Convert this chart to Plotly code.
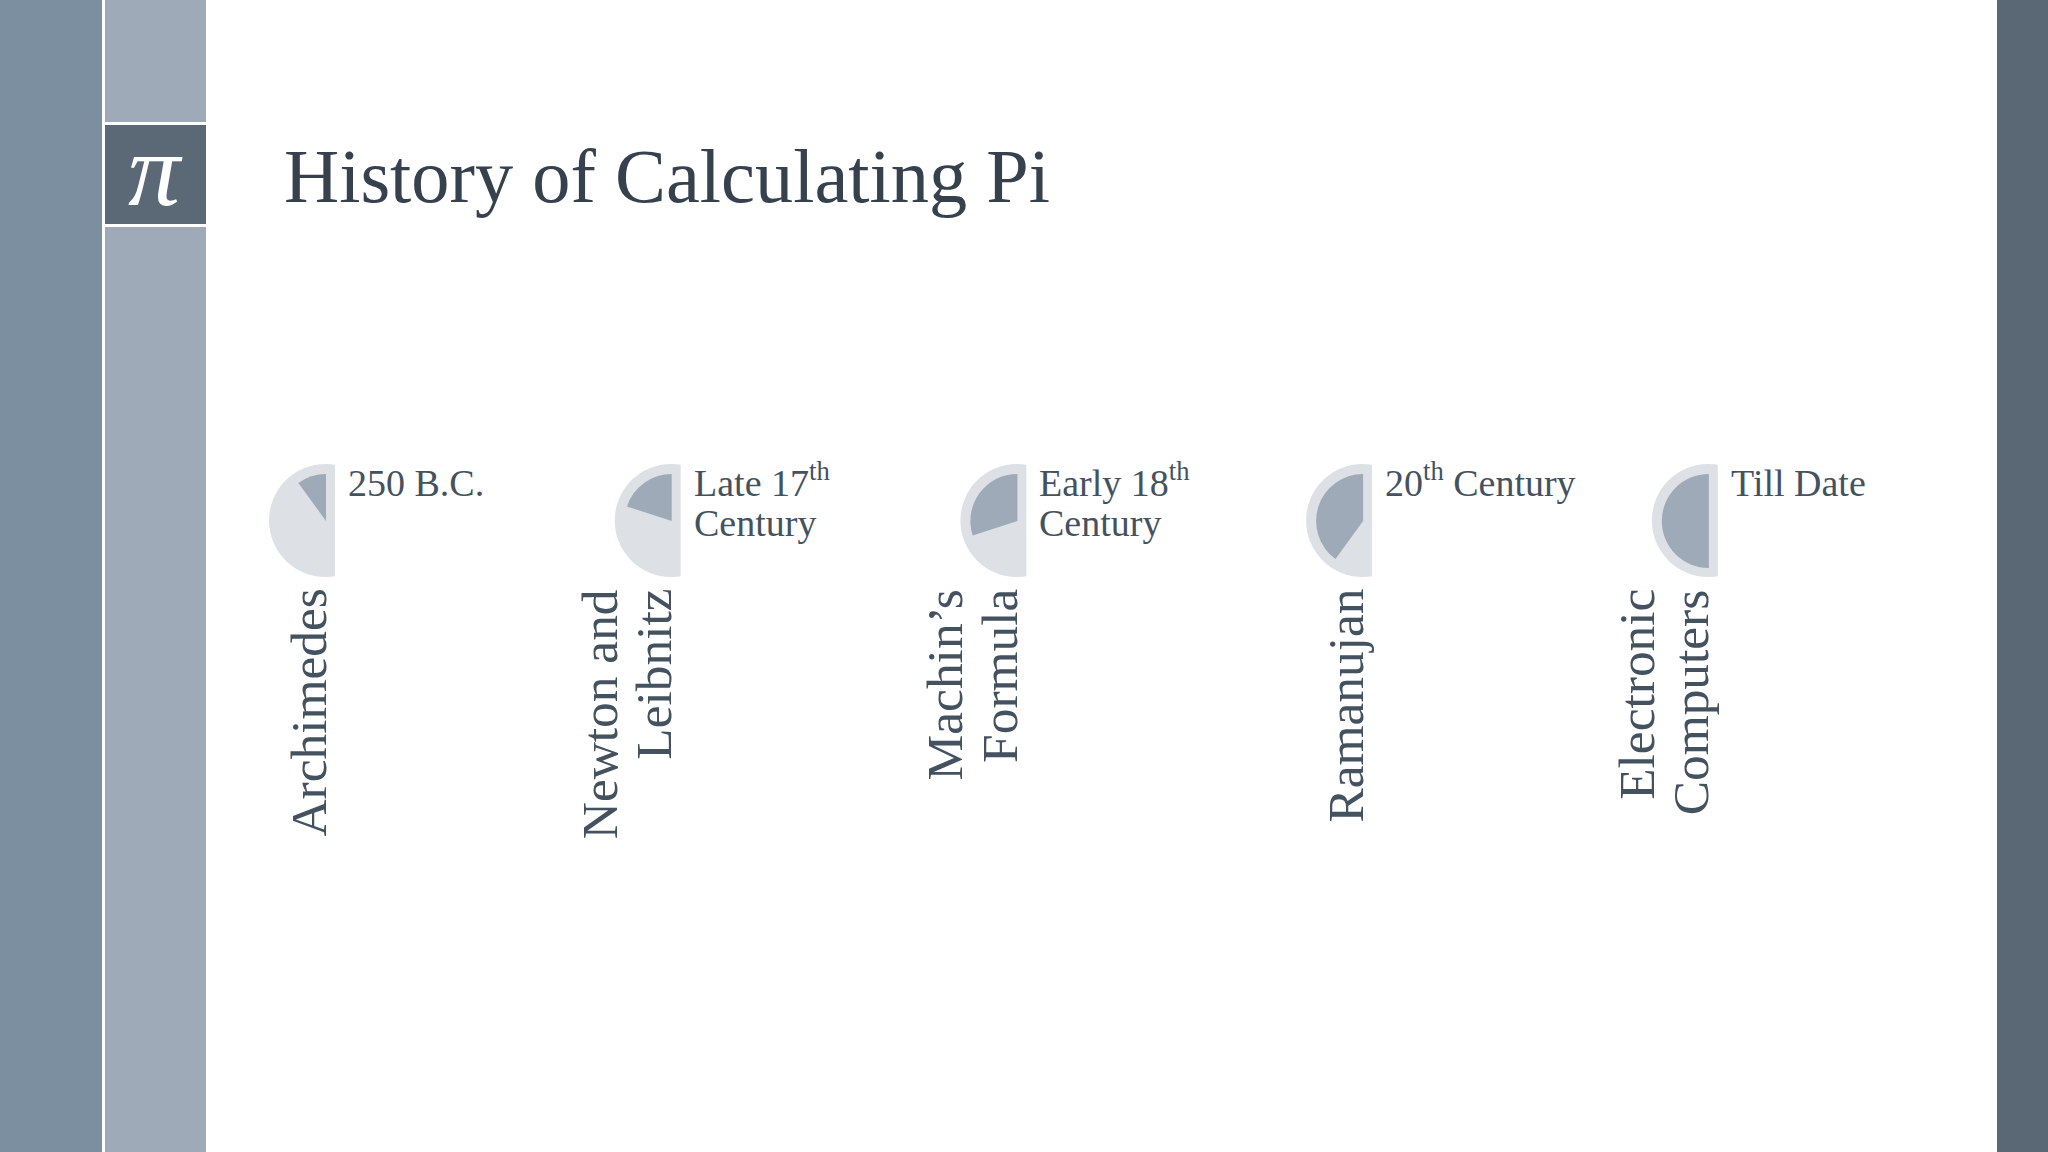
import plotly.graph_objects as go

W = 2048
H = 1152

# data
people = [["Archimedes"], ["Newton and", "Leibnitz"], ["Machin\u2019s", "Formula"], ["Ramanujan"], ["Electronic", "Computers"]]
periods = [["250 B.C."], ["Late 17<sup>th</sup>", "Century"], ["Early 18<sup>th</sup>", "Century"], ["20<sup>th</sup> Century"], ["Till Date"]]
sweep_deg = [36, 72, 108, 144, 180]
title_text = "History of Calculating Pi"

LIGHT = "#dde0e5"
MID = "#9eaab7"
DARK = "#5b6976"
TEXT = "#44525f"
SERIF = "Liberation Serif"


def px(x):
    return x / W


def py(y):
    return 1 - y / H


def rect(x0, y0, x1, y1, color, layer="below"):
    return dict(type="rect", xref="paper", yref="paper", x0=px(x0), x1=px(x1), y0=py(y0), y1=py(y1),
                fillcolor=color, line_width=0, layer=layer)


def domain(cx, cy, r):
    return dict(x=[px(cx - r), px(cx + r)], y=[py(cy + r), py(cy - r)])


fig = go.Figure()
shapes = [
    rect(0, 0, 102, H, "#7b8fa1"),
    rect(105, 0, 206, H, MID),
    rect(105, 122, 206, 227, "#ffffff"),
    rect(105, 125, 206, 224, DARK),
    rect(1997, 0, W, H, "#5a6775"),
]
notes = [
    dict(x=px(283), y=py(220), text=title_text, xanchor="left", yanchor="bottom",
         font=dict(family=SERIF, size=76.4, color="#36414d")),
    dict(x=px(155), y=py(170), text="<i>\u03c0</i>", xanchor="center", yanchor="middle",
         font=dict(family=SERIF, size=104, color="#ffffff")),
]

for i in range(len(people)):
    edge = 335 + i * 345.7
    fig.add_trace(go.Pie(values=[1], domain=domain(edge - 9.5, 520.5, 56.5), sort=False,
                         marker=dict(colors=[LIGHT], line=dict(width=0)),
                         textinfo="none", hoverinfo="skip", showlegend=False))
    # counterclockwise pies put the first value right of 12 o'clock, so the sweep goes second
    fig.add_trace(go.Pie(values=[360 - sweep_deg[i], sweep_deg[i]], domain=domain(edge - 9, 521, 47),
                         sort=False, direction="counterclockwise", rotation=0,
                         marker=dict(colors=["rgba(0,0,0,0)", MID], line=dict(width=0)),
                         textinfo="none", hoverinfo="skip", showlegend=False))
    shapes.append(rect(edge, 460, edge + 50, 582, "#ffffff", layer="above"))

    # period text next to the pie, one annotation per line
    for j, line in enumerate(periods[i]):
        notes.append(dict(x=px(edge + 12), y=py(505 + j * 40), text=line, xanchor="left", yanchor="bottom",
                          font=dict(family=SERIF, size=38, color=TEXT)))

    # rotated names, last line sits next to the pie edge
    lines = people[i]
    for j, line in enumerate(lines):
        base = edge - 9 - (len(lines) - 1 - j) * 54
        notes.append(dict(x=px(base + 11), y=py(588), text=line, textangle=-90, xanchor="right", yanchor="top",
                          font=dict(family=SERIF, size=51.4, color=TEXT)))

for n in notes:
    n.update(xref="paper", yref="paper", showarrow=False, borderpad=0)

fig.update_layout(width=W, height=H, margin=dict(l=0, r=0, t=0, b=0), paper_bgcolor="#ffffff",
                  plot_bgcolor="#ffffff", shapes=shapes, annotations=notes)

fig.write_html("out.html", config={"displayModeBar": False}, post_script="document.body.style.margin='0'")
